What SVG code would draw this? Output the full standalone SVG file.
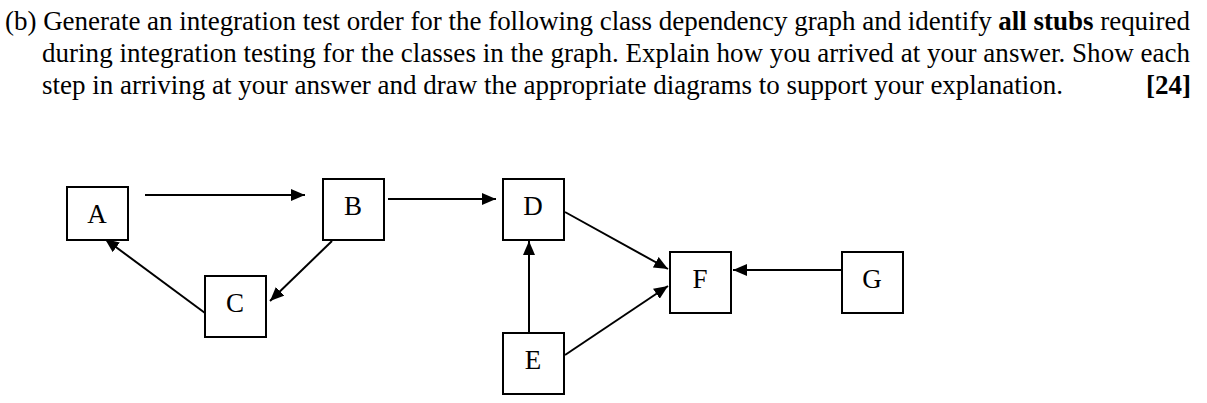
<svg xmlns="http://www.w3.org/2000/svg" width="1207" height="403" viewBox="0 0 1207 403">
<style>
text{font-family:"Liberation Serif","Times New Roman",serif;fill:#000}
.q{font-size:27px}
.n{font-size:27px;text-anchor:middle}
.box{fill:#fff;stroke:#000;stroke-width:2}
.c line{stroke:#000;stroke-width:2;marker-end:url(#ah)}
</style>
<defs><marker id="ah" viewBox="0 0 10 10" refX="10" refY="5" markerWidth="14" markerHeight="12" orient="auto" markerUnits="userSpaceOnUse" preserveAspectRatio="none"><path d="M0,0L10,5L0,10z" fill="#000"/></marker></defs>
<rect width="1207" height="403" fill="#fff"/>
<text class="q" x="5" y="30" textLength="1185" lengthAdjust="spacing">(b) Generate an integration test order for the following class dependency graph and identify <tspan font-weight="bold">all stubs</tspan> required</text>
<text class="q" x="42" y="62" textLength="1148" lengthAdjust="spacing">during integration testing for the classes in the graph. Explain how you arrived at your answer. Show each</text>
<text class="q" x="42" y="94" textLength="1021" lengthAdjust="spacing">step in arriving at your answer and draw the appropriate diagrams to support your explanation.</text>
<text class="q" x="1146" y="94" font-weight="bold">[24]</text>
<g class="c" id="connectors">
<line x1="145" y1="195" x2="305" y2="195"/>
<line x1="388" y1="199" x2="496" y2="199"/>
<line x1="332" y1="241" x2="270" y2="301"/>
<line x1="205" y1="313" x2="105" y2="239"/>
<line x1="529" y1="333" x2="529" y2="241"/>
<line x1="565" y1="212" x2="668" y2="269"/>
<line x1="565" y1="355" x2="668" y2="286"/>
<line x1="842" y1="270" x2="733" y2="270"/>
</g>
<g id="A"><rect class="box" x="67" y="187" width="61" height="53"/><text class="n" x="97" y="223">A</text></g>
<g id="B"><rect class="box" x="323" y="179" width="61" height="61"/><text class="n" x="353" y="215">B</text></g>
<g id="C"><rect class="box" x="205" y="276" width="61" height="61"/><text class="n" x="235" y="312">C</text></g>
<g id="D"><rect class="box" x="503" y="179" width="61" height="61"/><text class="n" x="533" y="215">D</text></g>
<g id="E"><rect class="box" x="503" y="333" width="61" height="61"/><text class="n" x="533" y="369">E</text></g>
<g id="F"><rect class="box" x="670" y="252" width="61" height="61"/><text class="n" x="700" y="288">F</text></g>
<g id="G"><rect class="box" x="842" y="252" width="61" height="61"/><text class="n" x="872" y="288">G</text></g>
</svg>
